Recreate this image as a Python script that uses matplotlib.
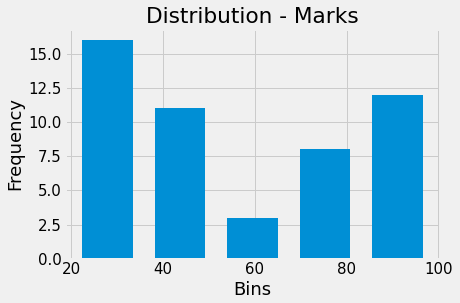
import matplotlib
matplotlib.use("Agg")
import matplotlib.pyplot as plt
from matplotlib.ticker import MultipleLocator

plt.style.use("fivethirtyeight")
plt.rcParams["font.size"] = 15

bin_edges = [20.0, 35.8, 51.6, 67.4, 83.2, 99.0]
counts = [16, 11, 3, 8, 12]

fig = plt.figure(figsize=(460 / 72, 303 / 72), dpi=72)
W, H = 460, 303
left, right, bottom, top = 65.0, 440.0, 258.7, 29.0
ax = fig.add_axes([left / W, 1 - bottom / H, (right - left) / W, (bottom - top) / H])

ax.hist(bin_edges[:-1], bins=bin_edges, weights=counts, rwidth=0.7)
ax.xaxis.set_major_locator(MultipleLocator(20))
ax.set_title("Distribution - Marks")
ax.set_xlabel("Bins")
ax.set_ylabel("Frequency")

fig.savefig("out.png", dpi=72)
